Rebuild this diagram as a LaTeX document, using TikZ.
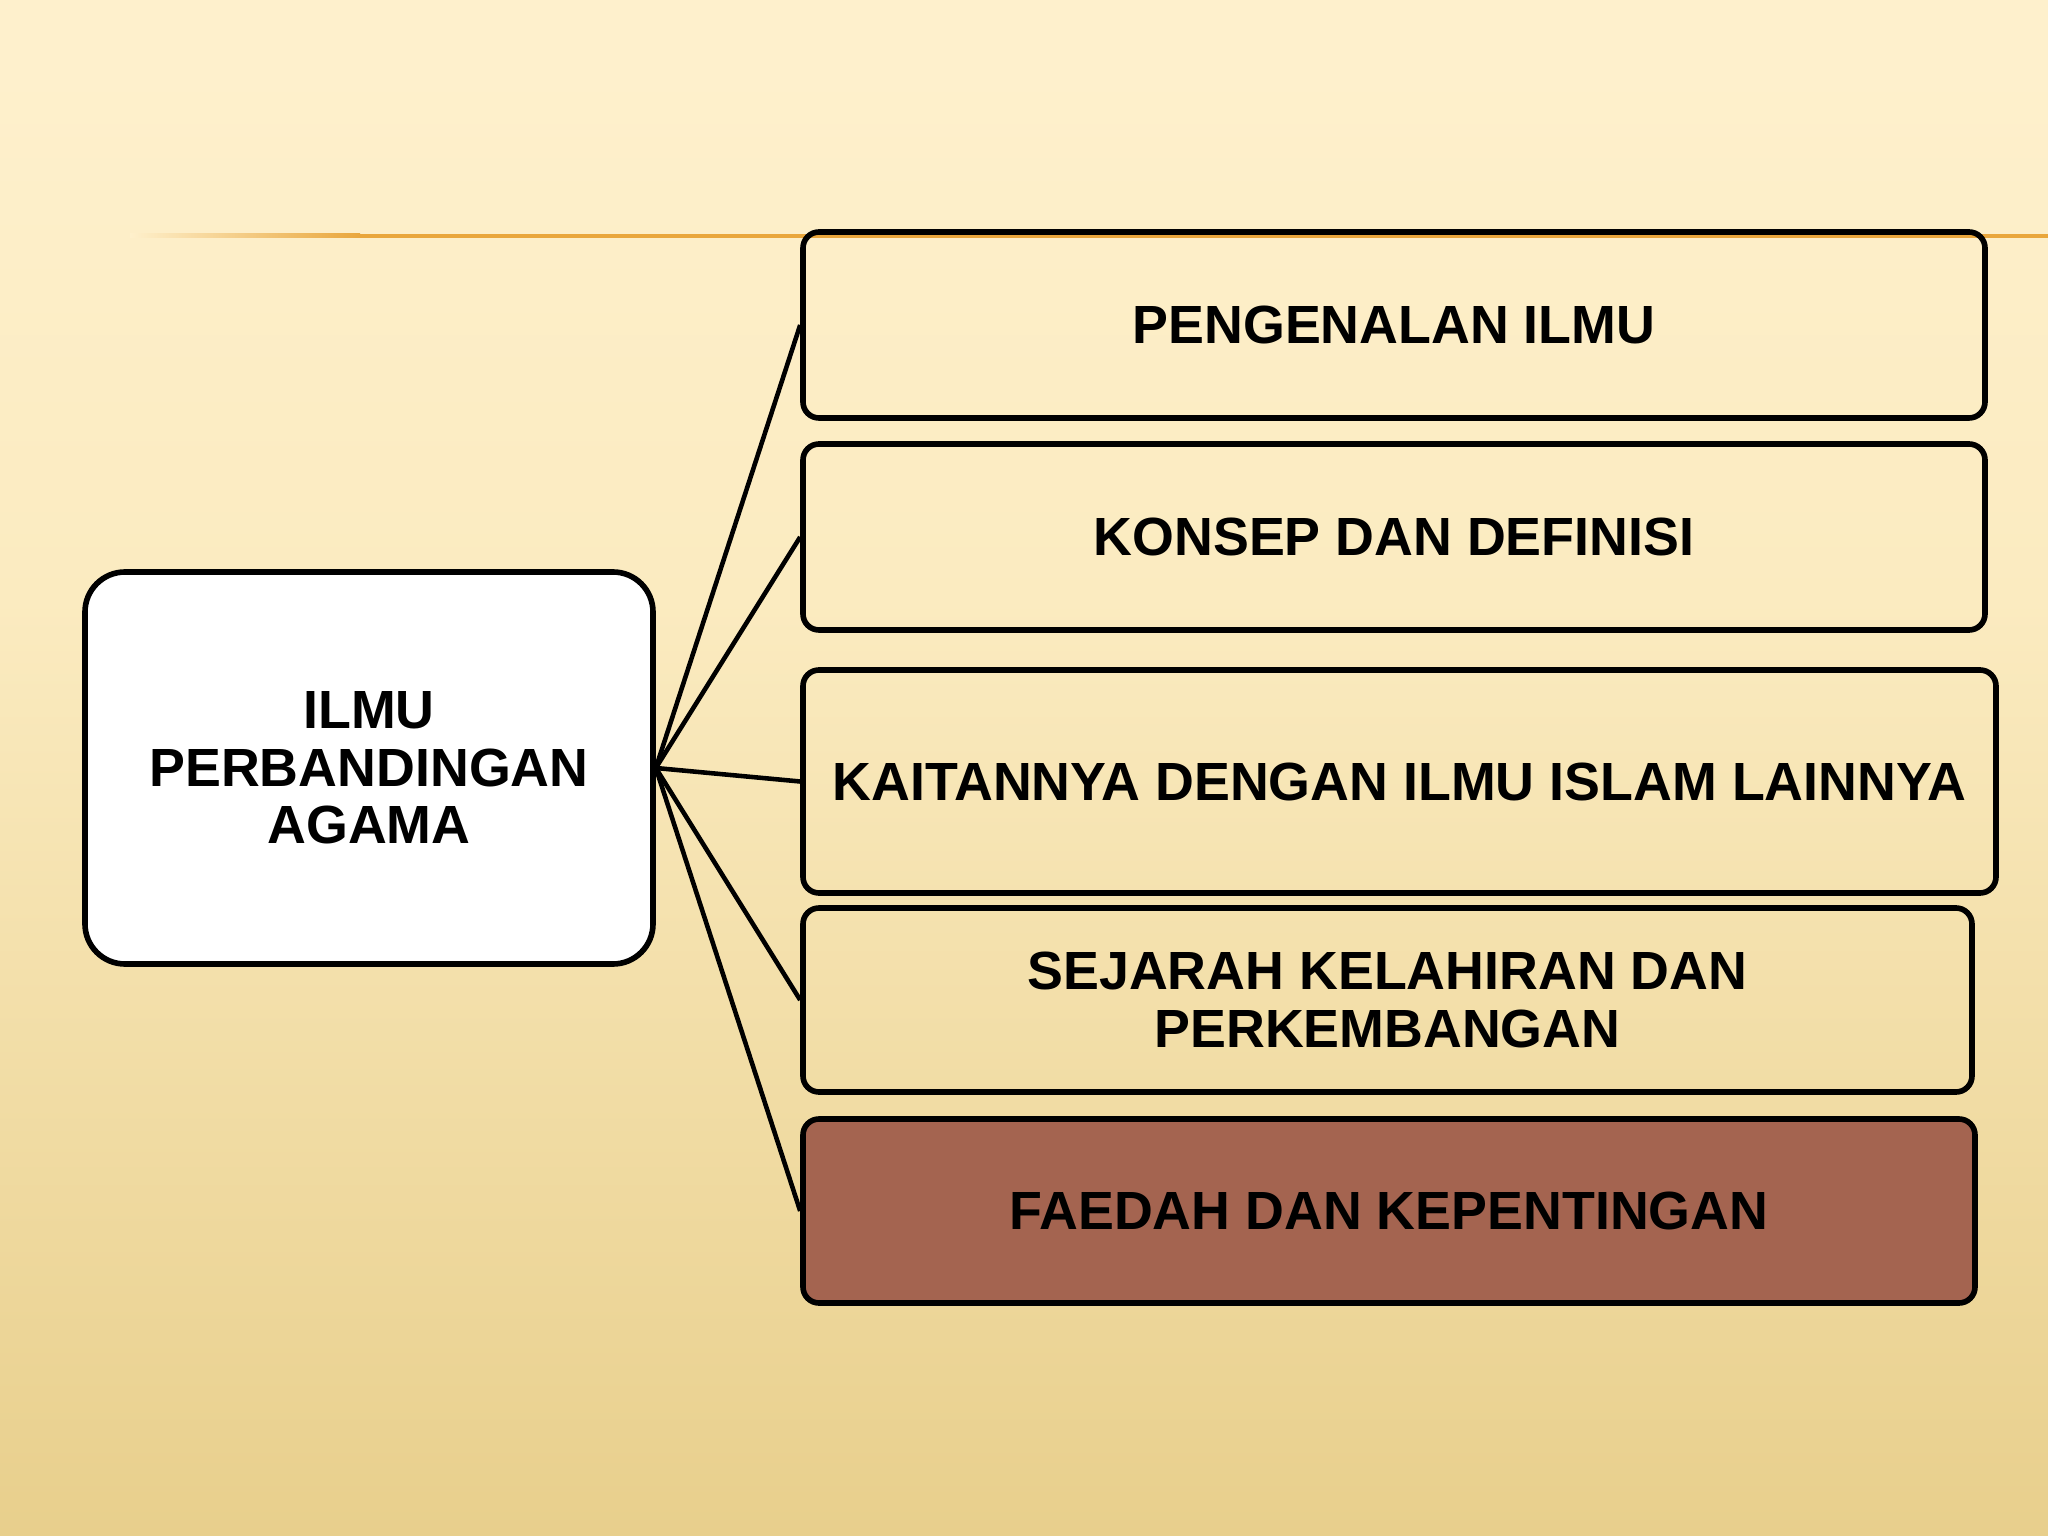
\documentclass[tikz,border=0pt]{standalone}
\usepackage{fontspec}
\setmainfont{Liberation Sans}
\usepackage{xcolor}
\usetikzlibrary{shapes.geometric, backgrounds}

\definecolor{creamtop}{HTML}{FEF0CC}
\definecolor{creammid}{HTML}{FBEBC0}
\definecolor{creambot}{HTML}{E8CF8C}
\definecolor{rulecol}{HTML}{E9A63C}
\definecolor{faedahfill}{HTML}{A46450}

\begin{document}
\begin{tikzpicture}[thick]
    % slide background
    \useasboundingbox (0,0) rectangle (20.48,-15.36);
    \fill[creamtop] (0,0) rectangle (20.48,-15.36);
    \shade[top color=creamtop, bottom color=creammid] (0,-0.7) rectangle (20.48,-6);
    \shade[top color=creammid, bottom color=creambot] (0,-6) rectangle (20.48,-15.36);

    % title rule
    \shade[left color=creamtop, right color=rulecol] (1.3,-2.34) rectangle (3.6,-2.38);
    \fill[rulecol] (3.6,-2.34) rectangle (20.48,-2.38);

    % Define styles for boxes and lines
    \tikzstyle{topic} = [rectangle, rounded corners=0.16cm, draw=black, line width=1.6pt, text centered, align=center, font=\bfseries\fontsize{15.3}{16.4}\selectfont]
    \tikzstyle{root} = [rectangle, rounded corners=0.4cm, draw=black, line width=1.6pt, fill=white, minimum width=5.68cm, minimum height=3.92cm, text centered, align=center, font=\bfseries\fontsize{15.3}{16.4}\selectfont]
    \tikzstyle{line} = [line width=1.3pt, -]

    % boxes
    \node (root) [root] at (3.69, -7.68) {ILMU\\PERBANDINGAN\\AGAMA};
    \node (pengenalan) [topic, minimum width=11.82cm, minimum height=1.86cm] at (13.94, -3.25) {PENGENALAN ILMU};
    \node (konsep) [topic, minimum width=11.82cm, minimum height=1.86cm] at (13.94, -5.37) {KONSEP DAN DEFINISI};
    \node (kaitan) [topic, minimum width=11.93cm, minimum height=2.23cm] at (13.995, -7.815) {KAITANNYA DENGAN ILMU ISLAM LAINNYA};
    \node (sejarah) [topic, minimum width=11.69cm, minimum height=1.84cm] at (13.875, -10.0) {SEJARAH KELAHIRAN DAN\\PERKEMBANGAN};
    \node (faedah) [topic, fill=faedahfill, minimum width=11.72cm, minimum height=1.84cm] at (13.89, -12.11) {FAEDAH DAN KEPENTINGAN};

    % Lines
    \draw [line] (root.east) -- (pengenalan.west);
    \draw [line] (root.east) -- (konsep.west);
    \draw [line] (root.east) -- (kaitan.west);
    \draw [line] (root.east) -- (sejarah.west);
    \draw [line] (root.east) -- (faedah.west);
\end{tikzpicture}
\end{document}
